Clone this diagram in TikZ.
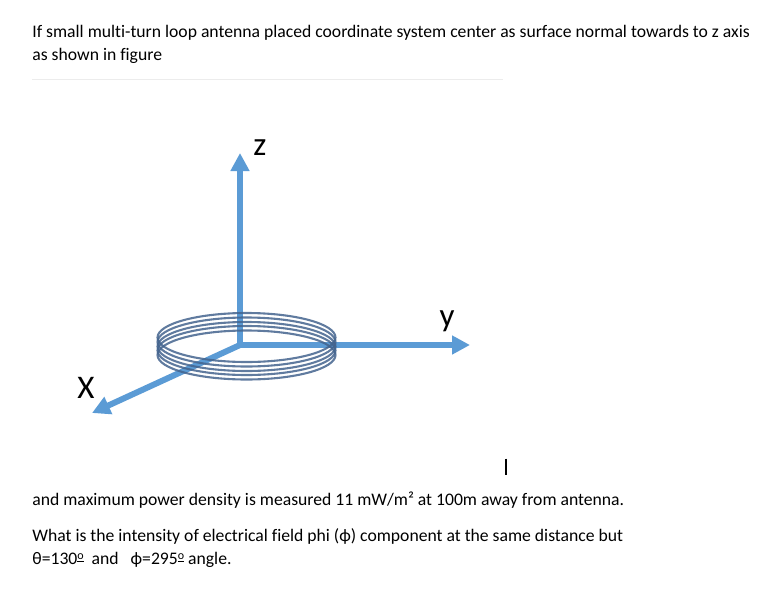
\documentclass[tikz,border=0pt]{standalone}
\usepackage{fontspec}
\setmainfont[Ligatures=NoCommon]{Carlito}
\usetikzlibrary{arrows.meta}
\definecolor{axisblue}{HTML}{5B9BD5}
\definecolor{coilblue}{HTML}{44648E}
\newcommand{\ordmark}{\raisebox{.5ex}{\underline{\fontsize{12}{12}\selectfont o}}}
\tikzset{
    every path/.style={thick},
    txt/.style={anchor=base west, inner sep=0pt, font=\fontsize{17.65}{20}\selectfont},
    lab/.style={inner sep=0pt, font=\fontsize{33}{35}\selectfont},
    axis/.style={-{Triangle[length=18pt,width=18pt]}, line width=6pt, axisblue},
    coil/.style={coilblue, line width=2.1pt, opacity=.85}
}

\begin{document}
\begin{tikzpicture}[x=1pt,y=-1pt]
\useasboundingbox (0,0) rectangle (778,597);
\node[txt] at (32,37) (t1) {If small multi-turn loop antenna placed coordinate system center as surface normal towards to z axis};
\node[txt] at (32,60.5) (t2) {as shown in figure};
\draw[gray!15] (32,79.5) -- (503,79.5);

\coordinate (o) at (240,345);
\coordinate (zend) at (240,153);
\coordinate (yend) at (470,345);
\coordinate (xend) at (92,413);
\draw [axis] (o) -- (zend);
\draw [axis] (o) -- (yend);
\draw [axis] (o) -- (xend);

\foreach \cy in {337.5,342,346.5,350.5,355}
    \draw [coil] (246.5,\cy) ellipse [x radius=89, y radius=24.5];

\node[lab] at (260,148) (zlab) {z};
\node[lab] at (447,321) (ylab) {y};
\node[lab] at (86,388) (xlab) {X};

\draw[line width=1.5pt] (506,458.5) -- (506,474.5);
\node[txt] at (32,505) (t3) {and maximum power density is measured 11 mW/m² at 100m away from antenna.};
\node[txt] at (32,541) (t4) {What is the intensity of electrical field phi (ϕ) component at the same distance but};
\node[txt] at (32,564) (t5) {θ=130\ordmark\ \ and\ \ \ ϕ=295\ordmark\ angle.};
\end{tikzpicture}
\end{document}
